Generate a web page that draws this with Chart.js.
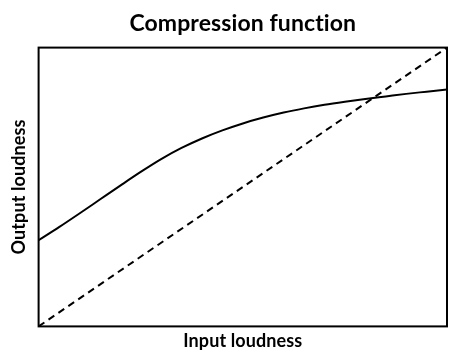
<!DOCTYPE html>
<html>
<head>
<meta charset="utf-8">
<script src="https://cdn.jsdelivr.net/npm/chart.js@4/dist/chart.umd.min.js"></script>
<style>
  html, body { margin: 0; padding: 0; background: #fff; }
  #wrap { width: 474px; height: 364px; }
</style>
</head>
<body>
<div id="wrap"><canvas id="chart" width="474" height="364"></canvas></div>
<script>
// Compression curve
const inputLevels = [0, 0.05, 0.1, 0.15, 0.2, 0.25, 0.3, 0.35, 0.4, 0.45, 0.5,
                     0.55, 0.6, 0.65, 0.7, 0.75, 0.8, 0.85, 0.9, 0.95, 1];
const outputLevels = [0.309, 0.356, 0.405, 0.455, 0.505, 0.554, 0.6, 0.64, 0.674, 0.703, 0.728,
                      0.749, 0.767, 0.782, 0.795, 0.806, 0.816, 0.825, 0.834, 0.842, 0.85];
// identity reference line
const identityX = [0, 1];
const identityY = [0, 1];

const frame = {
    id: 'frame',
    beforeDraw(chart) {
        // a tiny letter spacing stops Lato from joining "ti" into a ligature
        chart.ctx.letterSpacing = '0.1px';
    },
    afterDraw(chart) {
        const { ctx, chartArea: a } = chart;
        ctx.save();
        ctx.strokeStyle = '#000';
        ctx.lineWidth = 2;
        ctx.strokeRect(a.left, a.top, a.right - a.left, a.bottom - a.top);
        ctx.restore();
    }
};

const font = "Lato, 'Noto Sans', sans-serif";

new Chart(document.getElementById('chart').getContext('2d'), {
    type: 'line',
    data: {
        datasets: [
            {
                label: 'Compression',
                data: inputLevels.map((x, i) => ({ x: x, y: outputLevels[i] })),
                borderColor: '#000',
                borderWidth: 2,
                pointRadius: 0,
                cubicInterpolationMode: 'monotone'
            },
            {
                label: 'Identity',
                data: identityX.map((x, i) => ({ x: x, y: identityY[i] })),
                borderColor: '#000',
                borderWidth: 2,
                borderDash: [7, 5],
                pointRadius: 0
            }
        ]
    },
    options: {
        responsive: false,
        devicePixelRatio: 1,
        animation: false,
        layout: { padding: { top: 0, right: 27, bottom: 0, left: 0 } },
        plugins: {
            legend: { display: false },
            tooltip: { enabled: false },
            title: {
                display: true,
                fullSize: false,
                text: 'Compression function',
                color: '#000',
                font: { family: font, size: 23, weight: 'bold' },
                padding: { top: 10, bottom: 10 }
            }
        },
        scales: {
            x: {
                type: 'linear',
                min: 0,
                max: 1,
                grid: { display: false, drawTicks: false },
                border: { display: false },
                ticks: { display: false },
                title: {
                    display: true,
                    text: 'Input loudness',
                    color: '#000',
                    font: { family: font, size: 18, weight: 'bold' },
                    padding: { top: 4, bottom: 12 }
                }
            },
            y: {
                type: 'linear',
                min: 0,
                max: 1,
                grid: { display: false, drawTicks: false },
                border: { display: false },
                ticks: { display: false },
                title: {
                    display: true,
                    text: 'Output loudness',
                    color: '#000',
                    font: { family: font, size: 18, weight: 'bold' },
                    padding: { top: 8, bottom: 9 }
                }
            }
        }
    },
    plugins: [frame]
});
</script>
</body>
</html>
